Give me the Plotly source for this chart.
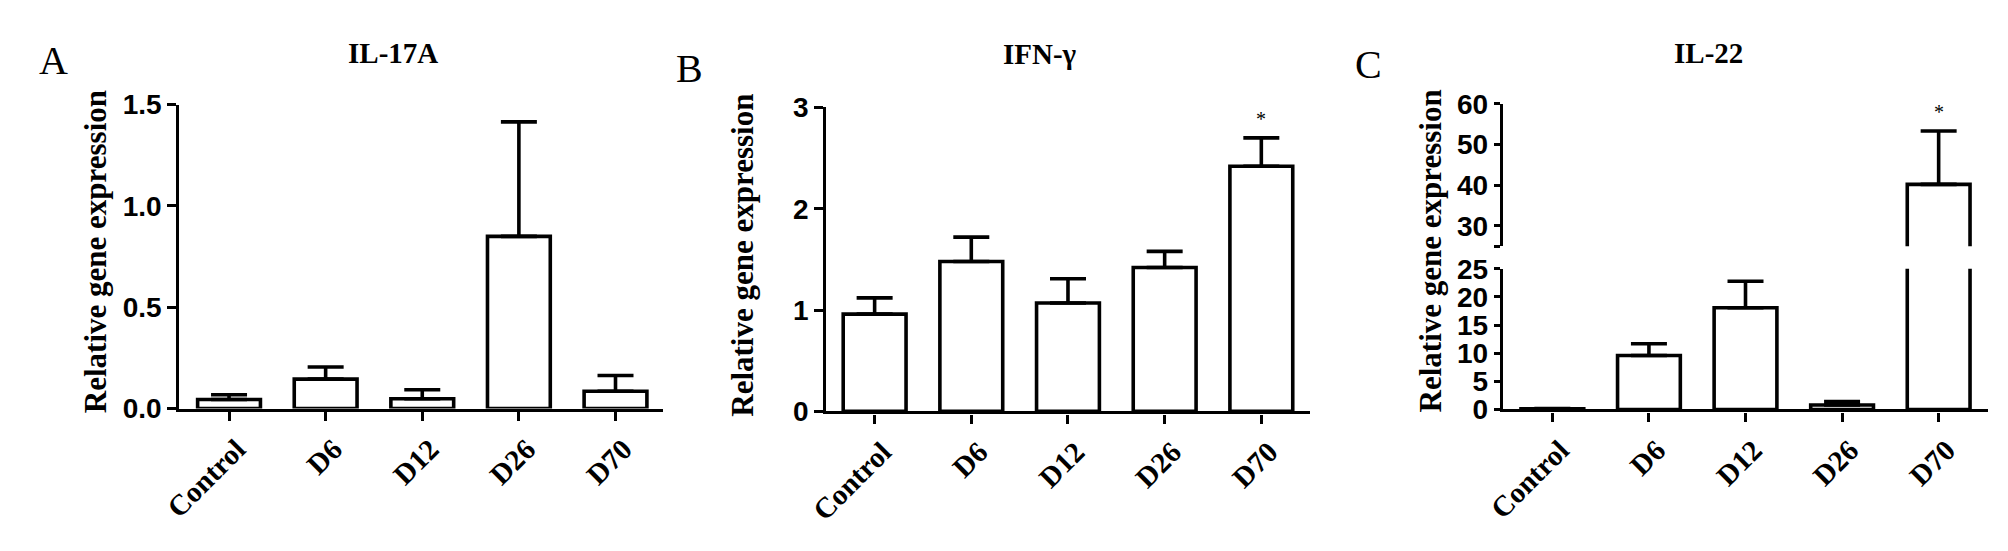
import plotly.graph_objects as go

# ---------------- data ----------------
categories = ["Control", "D6", "D12", "D26", "D70"]

il17a_mean = [0.045, 0.145, 0.048, 0.85, 0.085]
il17a_sem = [0.023, 0.06, 0.045, 0.565, 0.078]

ifng_mean = [0.96, 1.48, 1.07, 1.42, 2.42]
ifng_sem = [0.16, 0.24, 0.24, 0.16, 0.28]

il22_mean = [0.12, 9.6, 18.1, 0.8, 40.2]
il22_sem = [0.05, 2.1, 4.7, 0.6, 13.1]

panel_titles = ["IL-17A", "IFN-γ", "IL-22"]
panel_letters = ["A", "B", "C"]
y_title = "Relative gene expression"

ticks_a = [0.0, 0.5, 1.0, 1.5]
ticks_b = [0, 1, 2, 3]
ticks_c_low = [0, 5, 10, 15, 20, 25]
ticks_c_high = [25, 30, 40, 50, 60]
ticktext_c_high = ["", "30", "40", "50", "60"]

# ---------------- layout helpers ----------------
W, H = 2008, 551


def dx(p0, p1):
    return [p0 / W, p1 / W]


def dy(top, bottom):
    return [1 - bottom / H, 1 - top / H]


BLACK = "black"
SERIF = "Liberation Serif, Times New Roman, serif"
SANS = "Liberation Sans, Arial, sans-serif"
TICKFONT_Y = dict(family=SANS, size=28, color=BLACK, weight="bold")
TICKFONT_X = dict(family=SERIF, size=29, color=BLACK, weight="bold")


def bar_trace(means, sems, xa, ya):
    return go.Bar(
        x=categories, y=means, xaxis=xa, yaxis=ya, width=0.65,
        marker=dict(color="white", line=dict(color=BLACK, width=3.6)),
        error_y=dict(type="data", array=sems, arrayminus=[0] * len(sems), symmetric=False,
                     color=BLACK, thickness=3.6, width=18),
        showlegend=False, hoverinfo="x+y",
    )


fig = go.Figure()
fig.add_trace(bar_trace(il17a_mean, il17a_sem, "x", "y"))
fig.add_trace(bar_trace(ifng_mean, ifng_sem, "x2", "y2"))
fig.add_trace(bar_trace(il22_mean, il22_sem, "x3", "y3"))
fig.add_trace(bar_trace(il22_mean, il22_sem, "x4", "y4"))

common_x = dict(type="category", showline=True, linecolor=BLACK, linewidth=3.3, ticks="outside",
                tickwidth=3, ticklen=9, tickcolor=BLACK, tickangle=-45, tickfont=TICKFONT_X,
                ticklabelshift=8,
                showgrid=False, zeroline=False, fixedrange=True)
common_y = dict(showline=True, linecolor=BLACK, linewidth=3.3, ticks="outside", tickwidth=3,
                ticklen=9, tickcolor=BLACK, tickfont=TICKFONT_Y, showgrid=False, zeroline=False,
                fixedrange=True)

fig.update_layout(
    width=W, height=H, margin=dict(l=0, r=0, t=0, b=0),
    paper_bgcolor="white", plot_bgcolor="white",
    xaxis=dict(common_x, domain=dx(162, 650), range=[-0.513, 4.49], anchor="y"),
    yaxis=dict(common_y, domain=dy(95, 417), range=[0, 1.5], tickvals=ticks_a,
               tickformat=".1f", anchor="x"),
    xaxis2=dict(common_x, domain=dx(815, 1303), range=[-0.50, 4.50], anchor="y2"),
    yaxis2=dict(common_y, domain=dy(98, 420), range=[0, 3], tickvals=ticks_b, anchor="x2"),
    xaxis3=dict(common_x, domain=dx(1498, 1988), range=[-0.513, 4.513], anchor="y3"),
    yaxis3=dict(common_y, domain=dy(269, 418), range=[0, 25], tickvals=ticks_c_low,
                ticklen=6, anchor="x3"),
    xaxis4=dict(domain=dx(1498, 1988), range=[-0.513, 4.513], type="category", visible=False,
                anchor="y4", fixedrange=True),
    yaxis4=dict(common_y, domain=dy(94, 245), range=[25, 60], tickvals=ticks_c_high,
                ticktext=ticktext_c_high, ticklen=6, anchor="x4"),
)

annotations = []
# panel letters
for letter, (px, py) in zip(panel_letters, [(35, 48.5), (677, 56.5), (1362, 52)]):
    annotations.append(dict(text=letter, x=px / W, y=1 - py / H, xref="paper", yref="paper",
                            xanchor="center", yanchor="middle", showarrow=False,
                            font=dict(family=SERIF, size=40, color=BLACK)))
# panel titles
for title, (px, py) in zip(panel_titles, [(378, 40), (1031, 41), (1706, 40)]):
    annotations.append(dict(text=title, x=px / W, y=1 - py / H, xref="paper", yref="paper",
                            xanchor="center", yanchor="middle", showarrow=False,
                            font=dict(family=SERIF, size=29, color=BLACK, weight="bold")))
# y-axis titles
for px, py in [(78, 251), (731, 255), (1425, 250)]:
    annotations.append(dict(text=y_title, x=px / W, y=1 - py / H, xref="paper", yref="paper",
                            xanchor="center", yanchor="middle", showarrow=False, textangle=-90,
                            font=dict(family=SERIF, size=31, color=BLACK, weight="bold")))
# significance stars
for xr, yr, means, sems in [("x2", "y2", ifng_mean, ifng_sem), ("x4", "y4", il22_mean, il22_sem)]:
    annotations.append(dict(text="*", x=categories[4], y=means[4] + sems[4], xref=xr, yref=yr,
                            xanchor="center", yanchor="bottom", yshift=6, showarrow=False,
                            font=dict(family=SERIF, size=20, color=BLACK)))
fig.update_layout(annotations=annotations)

# remove the default 8px page margin so the figure fills the window exactly
fig.write_html(
    "out.html",
    config={"displayModeBar": False},
    post_script="document.body.style.margin='0px';document.body.style.overflow='hidden';",
)
